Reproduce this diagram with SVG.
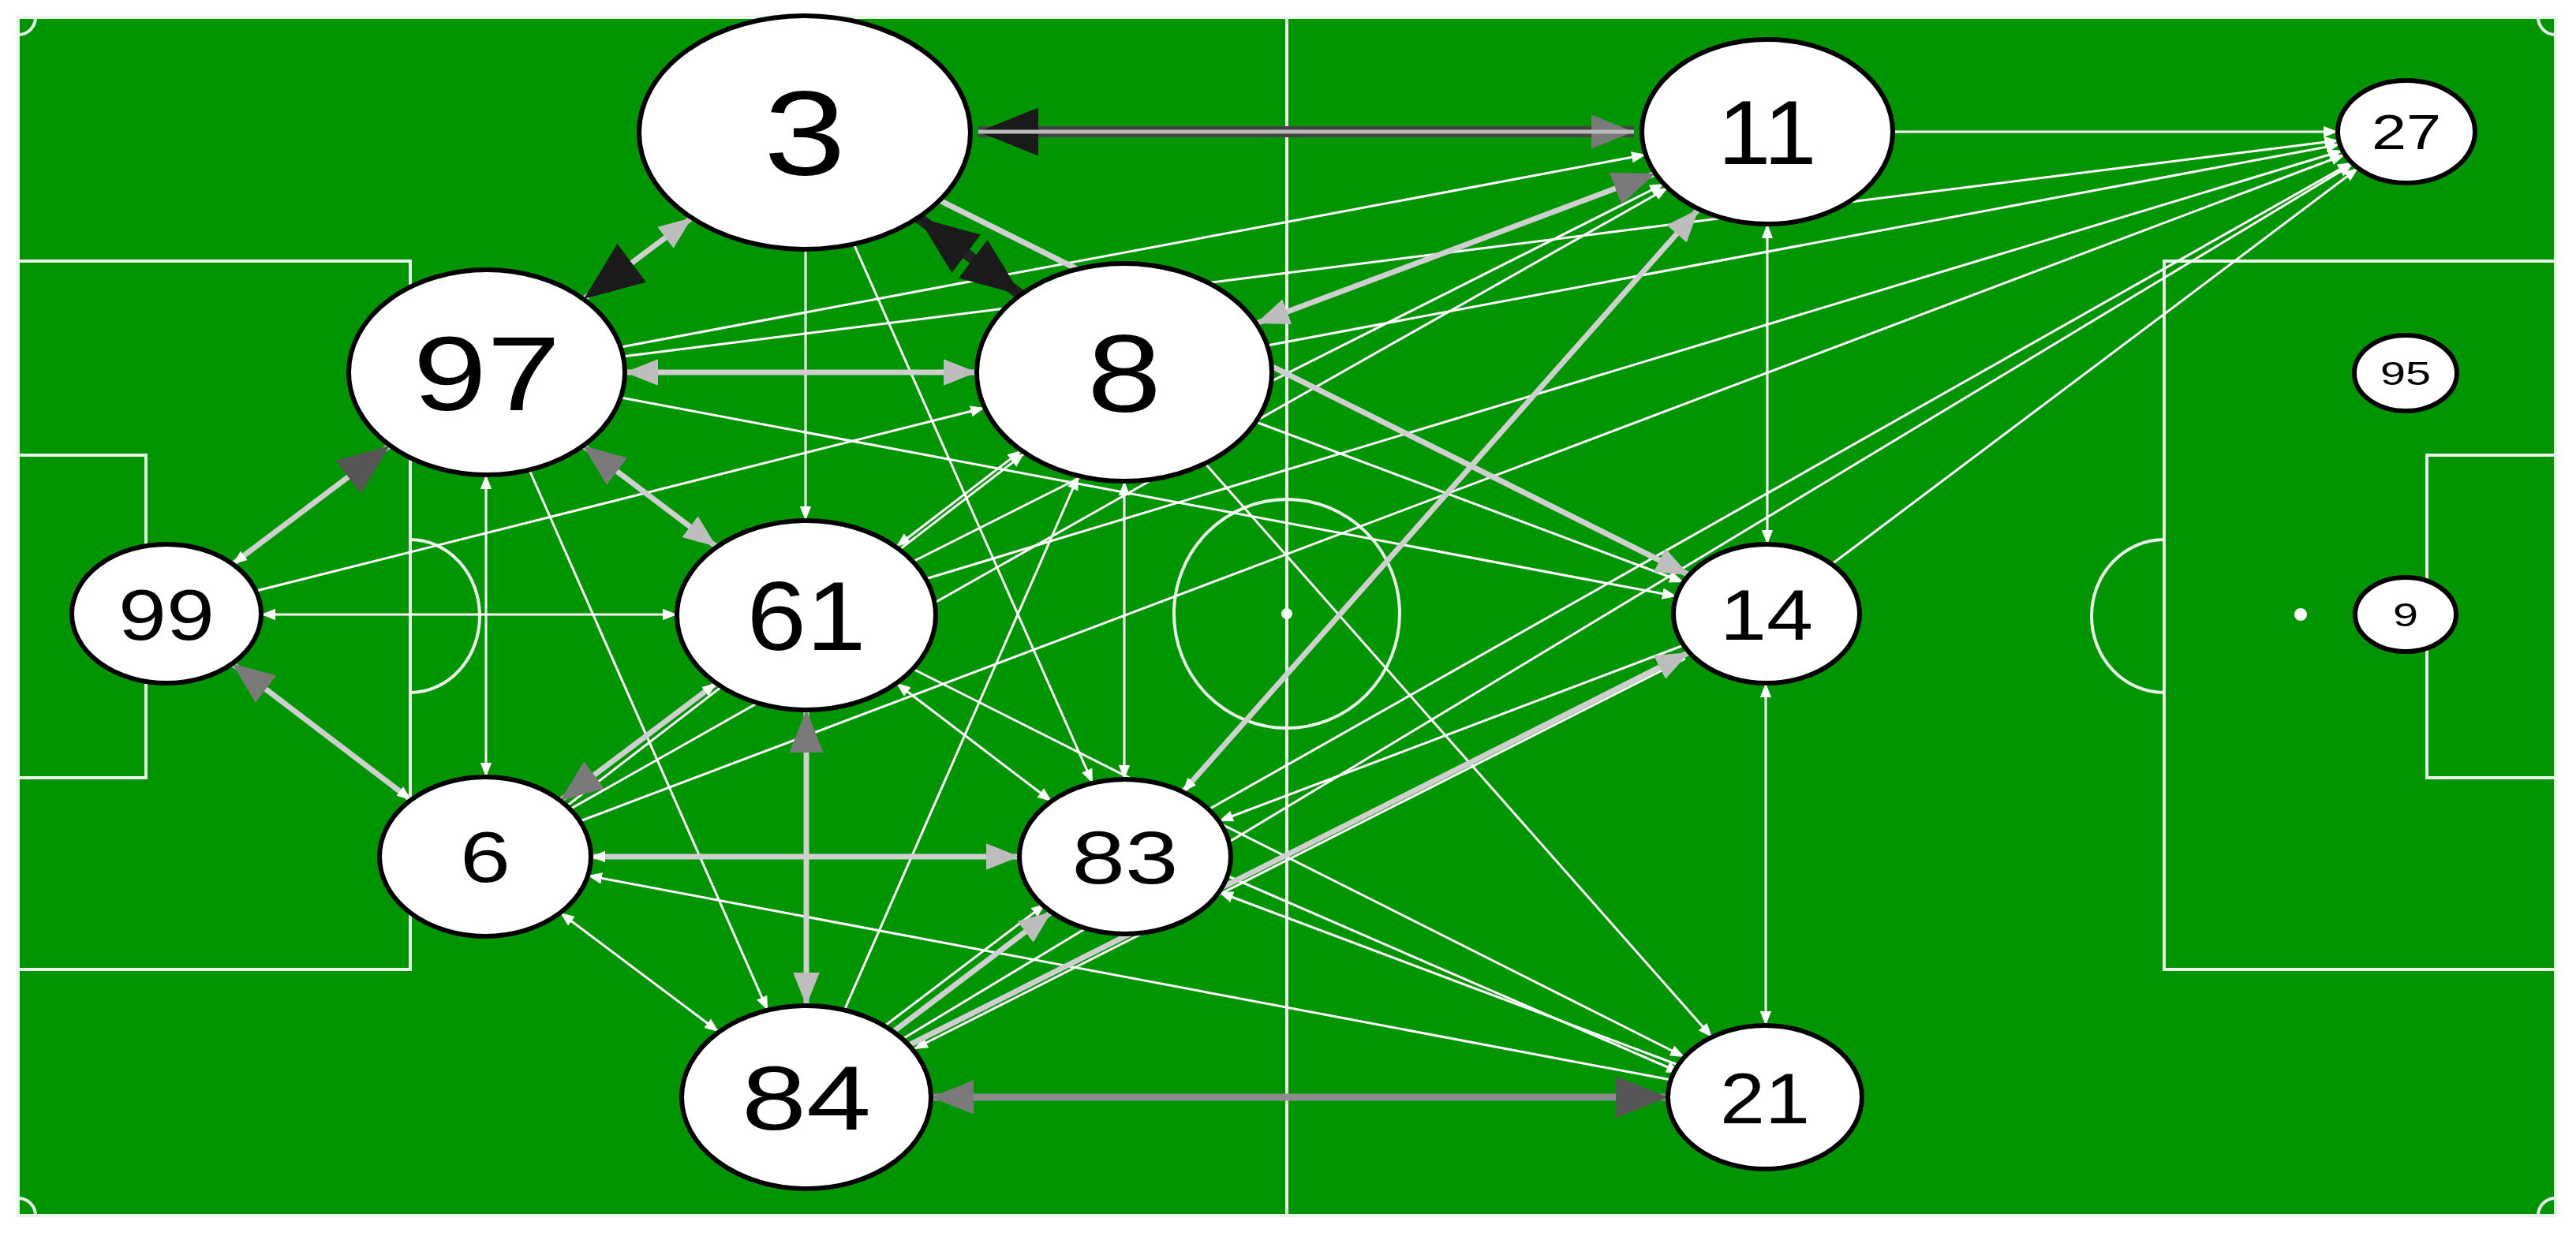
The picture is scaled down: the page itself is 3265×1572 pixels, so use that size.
<svg xmlns="http://www.w3.org/2000/svg" width="3265" height="1572" viewBox="0 0 3265 1572">
<style>
.pl{fill:none;stroke:#e8f5e8;stroke-width:4}
.nd{fill:#fff;stroke:#000;stroke-width:6}
.lb{font-family:"Liberation Sans",Arial,sans-serif;text-anchor:middle;fill:#000}
.w{stroke:#fff;stroke-width:3;fill:none}
.l{stroke:#cfcfcf;stroke-width:7;fill:none}
.g{stroke:#8c8c8c;stroke-width:9;fill:none}
.k{stroke:#222;stroke-width:14;fill:none}
</style>
<defs>
<marker id="mw" viewBox="0 0 10 10" refX="10" refY="5" markerWidth="18" markerHeight="18" markerUnits="userSpaceOnUse" orient="auto-start-reverse"><path d="M0,1 L10,5 L0,9 z" fill="#fff"/></marker>
<marker id="ml" viewBox="0 0 10 10" refX="10" refY="5" markerWidth="42" markerHeight="42" markerUnits="userSpaceOnUse" orient="auto-start-reverse"><path d="M0,1 L10,5 L0,9 z" fill="#bdbdbd"/></marker>
<marker id="mg" viewBox="0 0 10 10" refX="10" refY="5" markerWidth="54" markerHeight="54" markerUnits="userSpaceOnUse" orient="auto-start-reverse"><path d="M0,1 L10,5 L0,9 z" fill="#7a7a7a"/></marker>
<marker id="md" viewBox="0 0 10 10" refX="10" refY="5" markerWidth="66" markerHeight="66" markerUnits="userSpaceOnUse" orient="auto-start-reverse"><path d="M0,1 L10,5 L0,9 z" fill="#555"/></marker>
<marker id="mk" viewBox="0 0 10 10" refX="10" refY="5" markerWidth="76" markerHeight="76" markerUnits="userSpaceOnUse" orient="auto-start-reverse"><path d="M0,1 L10,5 L0,9 z" fill="#1a1a1a"/></marker>
</defs>
<rect width="3265" height="1572" fill="#fff"/>
<g id="pitch">
<rect x="23" y="22" width="3216" height="1519" fill="#029502"/>
<rect x="23" y="22" width="3216" height="1519" class="pl"/>
<line x1="1631" y1="22" x2="1631" y2="1541" class="pl"/>
<ellipse cx="1631" cy="778" rx="143" ry="145" class="pl"/>
<circle cx="1631" cy="778" r="7" fill="#fff"/>
<rect x="23" y="331" width="497" height="898" class="pl"/>
<rect x="23" y="577" width="162" height="409" class="pl"/>
<path d="M520,684 A88,97 0 0 1 520,878" class="pl"/>
<rect x="2743" y="331" width="496" height="898" class="pl"/>
<rect x="3076" y="577" width="163" height="409" class="pl"/>
<path d="M2743,684 A92,97 0 0 0 2743,878" class="pl"/>
<circle cx="2916" cy="779" r="8" fill="#fff"/>
<path d="M23,44 A22,22 0 0 0 45,22 M3217,22 A22,22 0 0 0 3239,44 M23,1519 A22,22 0 0 1 45,1541 M3217,1541 A22,22 0 0 1 3239,1519" class="pl"/>
</g>
<g id="connectors">
<line x1="97" y1="0" x2="0" y2="0" class="w" stroke-opacity="0"/>
<line x1="787" y1="440" x2="2086" y2="196" class="w" marker-end="url(#mw)"/>
<line x1="1157" y1="712" x2="2109" y2="233" class="w" marker-end="url(#mw)"/>
<line x1="722" y1="1026" x2="2114" y2="238" class="w" marker-end="url(#mw)"/>
<line x1="2399" y1="167" x2="2963" y2="167" class="w" marker-end="url(#mw)"/>
<line x1="789" y1="452" x2="2964" y2="178" class="w" marker-end="url(#mw)"/>
<line x1="1606" y1="438" x2="2966" y2="183" class="w" marker-end="url(#mw)"/>
<line x1="1173" y1="734" x2="2969" y2="191" class="w" marker-end="url(#mw)"/>
<line x1="1532" y1="1026" x2="2981" y2="206" class="w" marker-end="url(#mw)"/>
<line x1="1144" y1="1317" x2="2982" y2="208" class="w" marker-end="url(#mw)"/>
<line x1="2322" y1="715" x2="2989" y2="213" class="w" marker-end="url(#mw)"/>
<line x1="735" y1="1041" x2="2972" y2="196" class="w" marker-end="url(#mw)"/>
<line x1="1021" y1="316" x2="1021" y2="660" class="w" marker-end="url(#mw)"/>
<line x1="1082" y1="309" x2="1385" y2="993" class="w" marker-end="url(#mw)"/>
<line x1="2240" y1="284" x2="2240" y2="690" class="w" marker-start="url(#mw)" marker-end="url(#mw)"/>
<line x1="616" y1="602" x2="616" y2="985" class="w" marker-start="url(#mw)" marker-end="url(#mw)"/>
<line x1="671" y1="596" x2="973" y2="1281" class="w" marker-end="url(#mw)"/>
<line x1="787" y1="504" x2="2125" y2="756" class="w" marker-end="url(#mw)"/>
<line x1="331" y1="779" x2="858" y2="779" class="w" marker-start="url(#mw)" marker-end="url(#mw)"/>
<line x1="325" y1="749" x2="1248" y2="517" class="w" marker-end="url(#mw)"/>
<line x1="718" y1="1022" x2="1298" y2="575" class="w" marker-end="url(#mw)"/>
<line x1="710" y1="1157" x2="911" y2="1308" class="w" marker-start="url(#mw)" marker-end="url(#mw)"/>
<line x1="1136" y1="866" x2="1333" y2="1016" class="w" marker-start="url(#mw)" marker-end="url(#mw)"/>
<line x1="1136" y1="693" x2="1295" y2="571" class="w" marker-start="url(#mw)" marker-end="url(#mw)"/>
<line x1="1157" y1="848" x2="2135" y2="1340" class="w" marker-end="url(#mw)"/>
<line x1="1425" y1="610" x2="1425" y2="988" class="w" marker-start="url(#mw)" marker-end="url(#mw)"/>
<line x1="1527" y1="587" x2="2170" y2="1315" class="w" marker-end="url(#mw)"/>
<line x1="1592" y1="535" x2="2134" y2="738" class="w" marker-end="url(#mw)"/>
<line x1="1070" y1="1281" x2="1367" y2="603" class="w" marker-end="url(#mw)"/>
<line x1="2134" y1="818" x2="1545" y2="1041" class="w" marker-end="url(#mw)"/>
<line x1="2136" y1="835" x2="1158" y2="1330" class="w" marker-end="url(#mw)"/>
<line x1="2238" y1="866" x2="2238" y2="1300" class="w" marker-start="url(#mw)" marker-end="url(#mw)"/>
<line x1="2127" y1="1350" x2="1545" y2="1131" class="w" marker-end="url(#mw)"/>
<line x1="1550" y1="1108" x2="2130" y2="1360" class="w" marker-end="url(#mw)"/>
<line x1="2118" y1="1369" x2="745" y2="1110" class="w" marker-end="url(#mw)"/>
<line x1="1122" y1="1300" x2="1325" y2="1146" class="w" marker-end="url(#mw)"/>
<line x1="1191" y1="254" x2="2141" y2="729" class="l" marker-end="url(#ml)"/>
<line x1="792" y1="472" x2="1238" y2="472" class="l" marker-start="url(#ml)" marker-end="url(#ml)"/>
<line x1="1499" y1="1004" x2="2153" y2="265" class="l" marker-start="url(#mw)" marker-end="url(#ml)"/>
<line x1="294" y1="841" x2="521" y2="1014" class="l" marker-start="url(#mg)" marker-end="url(#mw)"/>
<line x1="710" y1="1015" x2="908" y2="866" class="l" marker-start="url(#mg)" marker-end="url(#mw)"/>
<line x1="749" y1="1086" x2="1292" y2="1086" class="l" marker-start="url(#mw)" marker-end="url(#ml)"/>
<line x1="1152" y1="1325" x2="2141" y2="827" class="l" marker-end="url(#ml)"/>
<line x1="1132" y1="1308" x2="1333" y2="1156" class="l" marker-end="url(#ml)"/>
<line x1="1592" y1="410" x2="2098" y2="220" class="l" marker-start="url(#ml)" marker-end="url(#mg)"/>
<line x1="739" y1="565" x2="908" y2="693" class="l" marker-start="url(#mg)" marker-end="url(#ml)"/>
<line x1="295" y1="715" x2="494" y2="565" class="l" marker-start="url(#mw)" marker-end="url(#md)"/>
<line x1="1022" y1="900" x2="1022" y2="1275" class="l" marker-start="url(#mg)" marker-end="url(#ml)"/>
<line x1="740" y1="379" x2="877" y2="276" class="l" marker-start="url(#mk)" marker-end="url(#ml)"/>
<line x1="1180" y1="1391" x2="2114" y2="1391" class="g" marker-start="url(#mg)" marker-end="url(#md)"/>
<line x1="1240" y1="167" x2="2071" y2="167" stroke="#444" stroke-width="14" marker-start="url(#mk)" marker-end="url(#mg)"/>
<line x1="1240" y1="167" x2="2071" y2="167" stroke="#bbb" stroke-width="5"/>
<line x1="1164" y1="276" x2="1294" y2="374" class="k" marker-start="url(#mk)" marker-end="url(#mk)"/>
</g>
<g id="n3"><ellipse cx="1020" cy="168" rx="210" ry="148" class="nd"/><text x="1020" y="222" font-size="152" textLength="104" lengthAdjust="spacingAndGlyphs" class="lb">3</text></g>
<g id="n11"><ellipse cx="2240" cy="167" rx="159" ry="117" class="nd"/><text x="2240" y="208" font-size="115" textLength="125" lengthAdjust="spacingAndGlyphs" class="lb">11</text></g>
<g id="n27"><ellipse cx="3050" cy="167" rx="87" ry="65" class="nd"/><text x="3050" y="189" font-size="63" textLength="88" lengthAdjust="spacingAndGlyphs" class="lb">27</text></g>
<g id="n97"><ellipse cx="617" cy="472" rx="175" ry="130" class="nd"/><text x="617" y="520" font-size="133" textLength="187" lengthAdjust="spacingAndGlyphs" class="lb">97</text></g>
<g id="n8"><ellipse cx="1425" cy="472" rx="187" ry="138" class="nd"/><text x="1425" y="522" font-size="140" textLength="94" lengthAdjust="spacingAndGlyphs" class="lb">8</text></g>
<g id="n95"><ellipse cx="3049" cy="473" rx="65" ry="48" class="nd"/><text x="3049" y="488" font-size="42" textLength="64" lengthAdjust="spacingAndGlyphs" class="lb">95</text></g>
<g id="n99"><ellipse cx="211" cy="778" rx="120" ry="88" class="nd"/><text x="211" y="811" font-size="91" textLength="122" lengthAdjust="spacingAndGlyphs" class="lb">99</text></g>
<g id="n61"><ellipse cx="1022" cy="780" rx="164" ry="120" class="nd"/><text x="1022" y="824" font-size="124" textLength="151" lengthAdjust="spacingAndGlyphs" class="lb">61</text></g>
<g id="n14"><ellipse cx="2239" cy="778" rx="118" ry="88" class="nd"/><text x="2239" y="811" font-size="91" textLength="118" lengthAdjust="spacingAndGlyphs" class="lb">14</text></g>
<g id="n9"><ellipse cx="3049" cy="779" rx="64" ry="47" class="nd"/><text x="3049" y="794" font-size="42" textLength="32" lengthAdjust="spacingAndGlyphs" class="lb">9</text></g>
<g id="n6"><ellipse cx="615" cy="1086" rx="134" ry="101" class="nd"/><text x="615" y="1118" font-size="90" textLength="64" lengthAdjust="spacingAndGlyphs" class="lb">6</text></g>
<g id="n83"><ellipse cx="1426" cy="1086" rx="134" ry="98" class="nd"/><text x="1426" y="1120" font-size="94" textLength="135" lengthAdjust="spacingAndGlyphs" class="lb">83</text></g>
<g id="n84"><ellipse cx="1022" cy="1391" rx="158" ry="116" class="nd"/><text x="1022" y="1432" font-size="115" textLength="164" lengthAdjust="spacingAndGlyphs" class="lb">84</text></g>
<g id="n21"><ellipse cx="2237" cy="1391" rx="123" ry="91" class="nd"/><text x="2237" y="1424" font-size="91" textLength="114" lengthAdjust="spacingAndGlyphs" class="lb">21</text></g>
</svg>
